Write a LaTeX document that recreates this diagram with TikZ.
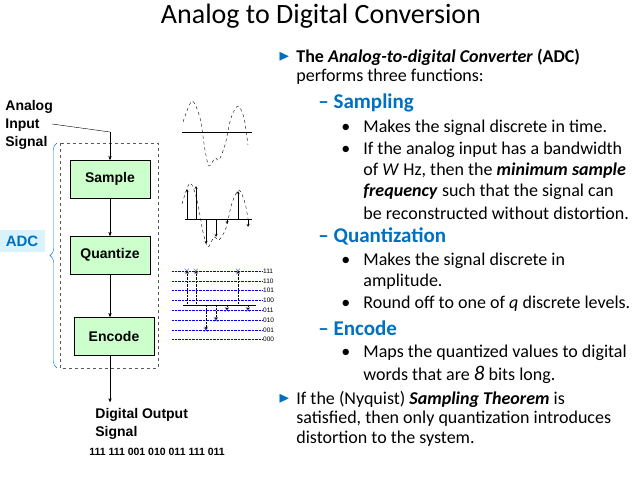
\documentclass[tikz,border=0pt]{standalone}
\usepackage{amssymb}
\usepackage{fontspec}
\setmainfont{Carlito}
\newfontfamily\arialf{Liberation Sans}
\usetikzlibrary{positioning,arrows,decorations.pathreplacing}
\definecolor{hblue}{RGB}{0,112,192}
\definecolor{boxgreen}{RGB}{204,255,204}
\newcommand{\bul}{\makebox[22pt][l]{•}}
\begin{document}
\begin{tikzpicture}[x=1pt,y=-1pt,thick]
\tikzstyle{blk} = [draw,fill=boxgreen,minimum width=80pt,minimum height=38pt,font=\arialf\bfseries\fontsize{14}{15}\selectfont,thin]
\tikzstyle{lbl} = [font=\arialf\bfseries\fontsize{14}{18}\selectfont,align=left,inner sep=0pt]
\tikzstyle{flow} = [->,>=stealth',thin]
\tikzstyle{txt} = [anchor=west,inner sep=0pt,font=\fontsize{18}{19}\selectfont]
\tikzstyle{head} = [anchor=west,inner sep=0pt,font=\bfseries\fontsize{21}{22}\selectfont,text=hblue]
\tikzstyle{lev} = [blue,densely dotted,thin]
\useasboundingbox (0,0) rectangle (638,478);
% title
\node[font=\fontsize{28}{30}\selectfont] (title) at (321,16) {Analog to Digital Conversion};
% block diagram
\draw[dashed,thin,gray!70!black] (60,143) rectangle (158,368);
\node[blk] (S) at (110,179) {Sample};
\node[blk] (Q) at (110,255) {Quantize};
\node[blk] (E) at (114,336) {Encode};
\node[lbl] (in) at (5,125) [anchor=west] {Analog\\Input\\Signal};
\coordinate (bend) at (110,132);
\coordinate (out) at (110,402);
\draw[thin] (52,124) -- (bend);
\draw[flow] (bend) -- (S);
\draw[flow] (S) -- (Q);
\draw[flow] (Q) -- (E.north -| Q);
\draw[flow] (E.south -| Q) -- (out);
\node[lbl] (dout) at (95,424) [anchor=west] {Digital Output\\Signal};
\node[lbl,font=\arialf\bfseries\fontsize{10.5}{12}\selectfont] (bits) at (157,452) {111 111 001 010 011 111 011};
\draw[hblue,thin,decorate,decoration={brace,amplitude=7pt}] (57,368) -- (57,143);
\node[fill=cyan!15,text=hblue,font=\arialf\bfseries\fontsize{15}{16}\selectfont,minimum width=45pt,minimum height=22pt] (adc) at (22,241) {ADC};
% analog waveform
\draw[thin] (182,132) -- (252,132);
\draw[dashed,thin] plot[smooth] coordinates {(183,122) (192,101) (200,118) (205,150) (209,166) (215,158) (219,160) (225,145) (231,118) (238,106) (244,118) (248,145)};
% sampled waveform
\draw[thin] (185,219) -- (252,219);
\draw[dashed,thin] plot[smooth] coordinates {(182,204) (190,183) (197,200) (203,232) (208,247) (214,237) (219,240) (226,228) (232,203) (239,190) (245,203) (249,225)};
\foreach \x/\y in {187/189,196/186,206/244,216/237,227/224,238/191,248/227}
  \draw[->,>=stealth,thin] (\x,219) -- (\x,\y);
% quantization levels
\foreach \k/\code in {7/111,6/110,5/101,4/100,3/011,2/010,1/001,0/000}
  \draw[lev] (172,{271+(7-\k)*9.8}) -- (262,{271+(7-\k)*9.8}) node[right,black,inner sep=1pt,font=\arialf\fontsize{6.5}{7}\selectfont] {\code};
\draw[thin] (183,305) -- (256,305);
\foreach \x/\k in {187/7,196/7,238/7,206/1,216/2,227/3,248/3}{
  \draw[->,>=stealth,densely dotted,thin] (\x,305) -- (\x,{271+(7-\k)*9.8});
  \node[blue!60!black,font=\bfseries\fontsize{9}{9}\selectfont,inner sep=0pt] at (\x,{271+(7-\k)*9.8}) {$\times$};
}
% text column
\node[txt,text=hblue] (b1) at (278,57) {\fontsize{15}{15}\selectfont$\blacktriangleright$};
\node[txt] (t1) at (296,57) {\textbf{The \textit{Analog-to-digital Converter} (ADC)}};
\node[txt] (t1b) at (296,77) {performs three functions:};
\node[head] (h1) at (318,103) {– Sampling};
\node[txt] (s1) at (341,128) {\bul Makes the signal discrete in time.};
\node[txt] (s2) at (341,150) {\bul If the analog input has a bandwidth};
\node[txt] (s2b) at (363,171) {of \textit{W} Hz, then the \textbf{\textit{minimum sample}}};
\node[txt] (s2c) at (363,192) {\textbf{\textit{frequency}} such that the signal can};
\node[txt] (s2d) at (363,213) {be reconstructed without distortion.};
\node[head] (h2) at (318,236) {– Quantization};
\node[txt] (s3) at (341,261) {\bul Makes the signal discrete in};
\node[txt] (s3b) at (363,282) {amplitude.};
\node[txt] (s4) at (341,304) {\bul Round off to one of \textit{q} discrete levels.};
\node[head] (h3) at (318,328) {– Encode};
\node[txt] (s5) at (341,353) {\bul Maps the quantized values to digital};
\node[txt] (s5b) at (363,375) {words that are \textit{\fontsize{21}{21}\selectfont 8} bits long.};
\node[txt,text=hblue] (b2) at (278,399) {\fontsize{15}{15}\selectfont$\blacktriangleright$};
\node[txt] (t2) at (296,399) {If the (Nyquist) \textbf{\textit{Sampling Theorem}} is};
\node[txt] (t2b) at (296,419) {satisfied, then only quantization introduces};
\node[txt] (t2c) at (296,439) {distortion to the system.};
\end{tikzpicture}
\end{document}
